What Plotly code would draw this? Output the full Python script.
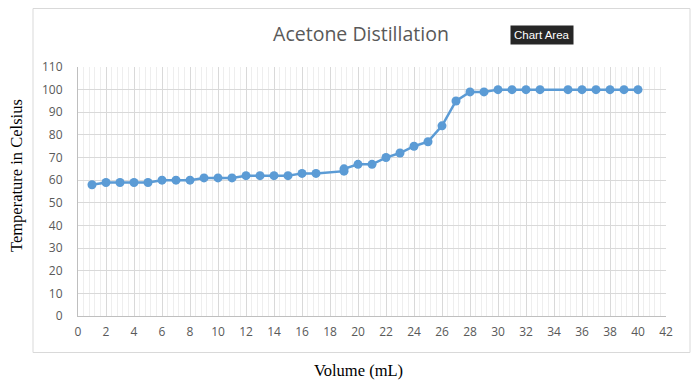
import plotly.graph_objects as go

volume_ml = [1, 2, 3, 4, 5, 6, 7, 8, 9, 10, 11, 12, 13, 14, 15, 16, 17, 19, 19,
             20, 21, 22, 23, 24, 25, 26, 27, 28, 29, 30, 31, 32, 33,
             35, 36, 37, 38, 39, 40]
temperature_c = [58, 59, 59, 59, 59, 60, 60, 60, 61, 61, 61, 62, 62, 62, 62, 63, 63, 64, 65,
                 67, 67, 70, 72, 75, 77, 84, 95, 99, 99, 100, 100, 100, 100,
                 100, 100, 100, 100, 100, 100]

title_text = "Acetone Distillation"
x_title = "Volume (mL)"
y_title = "Temperature in Celsius"

# page body has an 8px margin; figure sized to fit the 700x389 window
OFF = 8
W, H = 700 - OFF, 389 - OFF
L, R, T, B = 78 - OFF, 34, 67 - OFF, 73
pw, ph = W - L - R, H - T - B

def px_x(p):
    return (p - OFF - L) / pw

def px_y(p):
    return (H - B - (p - OFF)) / ph

fig = go.Figure()
fig.add_trace(go.Scatter(
    x=volume_ml, y=temperature_c, mode="lines+markers",
    line=dict(color="#5B9BD5", width=2.5),
    marker=dict(color="#5B9BD5", size=9),
    showlegend=False, hoverinfo="skip",
))

tick_font = dict(family="Open Sans, Noto Sans, sans-serif", size=12, color="#595959")

fig.update_xaxes(
    range=[0, 42], dtick=2, tick0=0,
    showgrid=True, gridcolor="#d9d9d9", gridwidth=1,
    minor=dict(dtick=0.4, showgrid=True, gridcolor="#eeeeee", gridwidth=1),
    showline=True, linecolor="#bfbfbf", linewidth=1,
    zeroline=False, tickfont=tick_font, ticks="", ticklabelstandoff=5,
    fixedrange=True,
)
fig.update_yaxes(
    range=[0, 110], dtick=10, tick0=0,
    showgrid=True, gridcolor="#d9d9d9", gridwidth=1,
    showline=True, linecolor="#bfbfbf", linewidth=1,
    zeroline=False, tickfont=tick_font, ticks="", ticklabelstandoff=12,
    fixedrange=True,
)

fig.update_layout(
    width=W, height=H,
    margin=dict(l=L, r=R, t=T, b=B),
    paper_bgcolor="white", plot_bgcolor="white",
    title=dict(text=title_text, x=(361 - OFF) / W, xanchor="center",
               y=1 - (34 - OFF) / H, yanchor="middle",
               font=dict(family="Open Sans, Noto Sans, sans-serif", size=19.5, color="#595959")),
    shapes=[dict(type="rect", xref="paper", yref="paper",
                 x0=px_x(33), x1=px_x(690), y0=px_y(352.5), y1=px_y(8.5),
                 line=dict(color="#d9d9d9", width=1), fillcolor="rgba(0,0,0,0)", layer="below")],
    annotations=[
        dict(text=x_title, xref="paper", yref="paper", x=px_x(358), y=px_y(370),
             xanchor="center", yanchor="middle", showarrow=False,
             font=dict(family="Liberation Serif, Times New Roman, serif", size=16.5, color="black")),
        dict(text=y_title, xref="paper", yref="paper", x=px_x(16), y=px_y(176),
             xanchor="center", yanchor="middle", showarrow=False, textangle=-90,
             font=dict(family="Liberation Serif, Times New Roman, serif", size=16.5, color="black")),
        dict(text="Chart Area", xref="paper", yref="paper", x=px_x(542), y=px_y(35),
             xanchor="center", yanchor="middle", showarrow=False,
             bgcolor="#262626", borderpad=3,
             font=dict(family="Liberation Sans, Arial, sans-serif", size=11.5, color="white")),
    ],
)

fig.write_html("out.html")
